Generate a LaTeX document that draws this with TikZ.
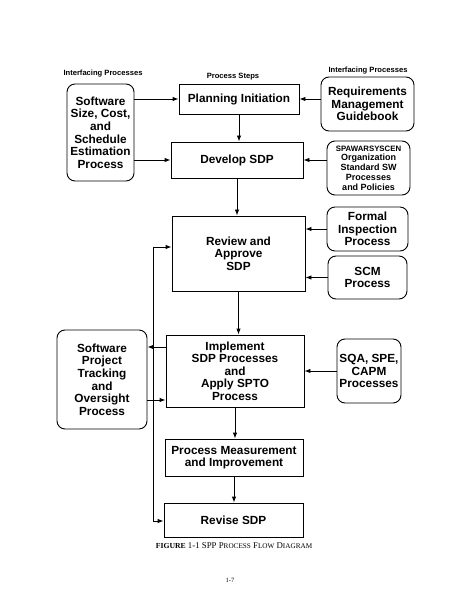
\documentclass[tikz,border=0pt]{standalone}
\usepackage{fontspec}
\usetikzlibrary{arrows.meta}
\setsansfont{Liberation Sans}
\newfontfamily\capfont{Liberation Serif}

\begin{document}
\begin{tikzpicture}[x=1pt,y=-1pt,
    pbox/.style={draw=black,line width=0.9pt,inner sep=0pt,align=center,
      font=\sffamily\bfseries\fontsize{11.8}{12.6}\selectfont},
    ibox/.style={pbox,rounded corners=8pt},
    arr/.style={-{Latex[length=6pt,width=4.5pt]},line width=0.9pt},
    lbl/.style={inner sep=0pt,font=\sffamily\bfseries\fontsize{7.6}{9}\selectfont}]
  \useasboundingbox (0,0) rectangle (474,612);

  % process steps
  \node[pbox,minimum width=120pt,minimum height=30pt] (plan) at (239,99) {Planning Initiation};
  \node[pbox,minimum width=132pt,minimum height=36pt] (dev) at (237,160) {Develop SDP};
  \node[pbox,minimum width=133pt,minimum height=75pt] (rev) at (238.5,253.5) {Review and\\Approve\\SDP};
  \node[pbox,minimum width=138pt,minimum height=72pt] (imp) at (235,371) {Implement\\SDP Processes\\and\\Apply SPTO\\Process};
  \node[pbox,minimum width=138pt,minimum height=37pt] (pm) at (234,457.5) {Process Measurement\\and Improvement};
  \node[pbox,minimum width=139pt,minimum height=34pt] (rsd) at (233.5,520) {Revise SDP};

  % interfacing processes
  \node[ibox,minimum width=67pt,minimum height=97pt] (sw) at (100.5,132.5) {Software\\Size, Cost,\\and\\Schedule\\Estimation\\Process};
  \node[ibox,minimum width=93pt,minimum height=54pt] (req) at (367.5,104) {Requirements\\Management\\Guidebook};
  \node[ibox,minimum width=83pt,minimum height=54pt,font=\sffamily\bfseries\fontsize{9}{9.7}\selectfont] (spa) at (368.5,168)
    {{\fontsize{7.8}{9.7}\selectfont SPAWARSYSCEN}\\Organization\\Standard SW\\Processes\\and Policies};
  \node[ibox,minimum width=81pt,minimum height=44pt] (fip) at (367.5,229) {Formal\\Inspection\\Process};
  \node[ibox,minimum width=79pt,minimum height=43pt] (scm) at (367.5,277.5) {SCM\\Process};
  \node[ibox,minimum width=90pt,minimum height=99pt] (trk) at (102,379.5) {Software\\Project\\Tracking\\and\\Oversight\\Process};
  \node[ibox,minimum width=64pt,minimum height=64pt] (sqa) at (369,371) {SQA, SPE,\\CAPM\\Processes};

  % column headings
  \node[lbl] (hl) at (103,74) {Interfacing Processes};
  \node[lbl] (hm) at (233,77) {Process Steps};
  \node[lbl] (hr) at (368,71) {Interfacing Processes};

  % main flow
  \draw[arr] (plan.south) -- (plan.south |- dev.north);
  \draw[arr] (dev.south) -- (dev.south |- rev.north);
  \draw[arr] (rev.south) -- (rev.south |- imp.north);
  \draw[arr] (imp.south) -- (imp.south |- pm.north);
  \draw[arr] (pm.south) -- (pm.south |- rsd.north);

  % inputs
  \draw[arr] (sw.east |- plan.west) -- (plan.west);
  \draw[arr] (sw.east |- dev.west) -- (dev.west);
  \draw[arr] (req.west |- plan.east) -- (plan.east);
  \draw[arr] (spa.west |- dev.east) -- (dev.east);
  \draw[arr] (fip.west) -- (fip.west -| rev.east);
  \draw[arr] (scm.west) -- (scm.west -| rev.east);
  \draw[arr] (sqa.west) -- (sqa.west -| imp.east);
  \draw[arr] ([yshift=24pt]imp.west) -- ([yshift=24pt]imp.west -| trk.east);
  \draw[arr] ([yshift=-29pt]imp.west -| trk.east) -- ([yshift=-29pt]imp.west);

  % feedback
  \coordinate (ft) at (153,247);
  \coordinate (fb) at (153,521);
  \draw[arr] (ft) -- (ft -| rev.west);
  \draw[arr] (ft) -- (fb) -- (fb -| rsd.west);

  % caption
  \node[inner sep=0pt,font=\capfont\fontsize{8.8}{10}\selectfont] (cap) at (234,546)
    {{\bfseries\fontsize{7.7}{9}\selectfont FIGURE} 1-1 SPP P{\fontsize{7.2}{9}\selectfont ROCESS} F{\fontsize{7.2}{9}\selectfont LOW} D{\fontsize{7.2}{9}\selectfont IAGRAM}};
  \node[inner sep=0pt,font=\capfont\fontsize{6.5}{8}\selectfont] (pg) at (230,580) {1-7};
\end{tikzpicture}
\end{document}
